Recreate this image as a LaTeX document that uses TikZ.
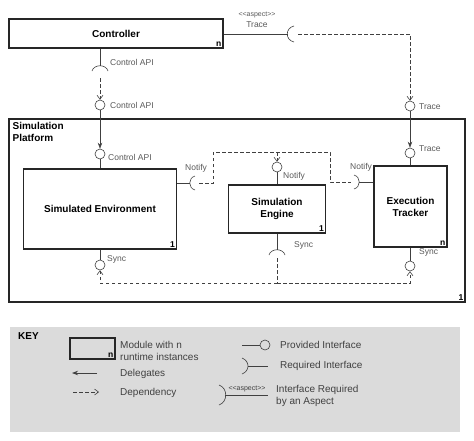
\documentclass[tikz,border=0pt]{standalone}
\usepackage{fontspec}
\setmainfont{Liberation Sans}
\usetikzlibrary{arrows.meta, positioning}

\begin{document}
\begin{tikzpicture}[
    x=1pt, y=-1pt,
    >={Stealth[length=6pt, width=4.5pt]},
    module/.style={
        rectangle,
        draw=black!85,
        line width=1.2pt,
        font=\bfseries\fontsize{10}{12}\selectfont,
        align=center,
        inner sep=0pt
    },
    count/.style={
        font=\bfseries\fontsize{8.5}{9}\selectfont,
        anchor=south east,
        inner sep=2pt
    },
    provided/.style={
        circle,
        draw=black!75,
        line width=0.6pt,
        minimum size=10pt,
        inner sep=0pt
    },
    wire/.style={draw=black!75, line width=0.6pt},
    delegate/.style={wire, ->},
    dep/.style={wire, dash pattern=on 3.5pt off 2.5pt},
    depend/.style={dep, -{Straight Barb[length=4pt, width=6pt]}},
    portlabel/.style={
        font=\fontsize{8.5}{10}\selectfont,
        text=black!65,
        inner sep=1pt
    },
    keytext/.style={
        font=\fontsize{10}{12}\selectfont,
        text=black!75,
        anchor=west,
        align=left,
        inner sep=0pt
    }
]
\useasboundingbox (0,0) rectangle (474,440);

% Controller
\node[module, minimum width=214pt, minimum height=29pt] (ctrl) at (116,33.5) {Controller};
\node[count] (ctrln) at (ctrl.south east) {n};

% Simulation Platform
\node[module, minimum width=456pt, minimum height=183pt] (platform) at (237,210.5) {};
\node[font=\bfseries\fontsize{10}{11.5}\selectfont, align=left, inner sep=0pt,
      below right=4pt and 4pt of platform.north west] (platlabel) {Simulation\\Platform};
\node[count] (platn) at (platform.south east) {1};

% Modules inside the platform
\node[module, minimum width=153pt, minimum height=80pt] (env) at (100,209) {Simulated Environment};
\node[count] (envn) at (env.south east) {1};
\node[module, minimum width=97pt, minimum height=48pt] (engine) at (277,209) {Simulation\\Engine};
\node[count] (enginen) at (engine.south east) {1};
\node[module, minimum width=73pt, minimum height=81pt] (tracker) at (410.5,206.5) {Execution\\Tracker};
\node[count] (trackern) at (tracker.south east) {n};

% Provided interfaces
\node[provided] (ctrlapi) at (100,105) {};
\node[provided] (envapi) at (100,154) {};
\node[provided] (tracetop) at (410,106) {};
\node[provided] (trktrace) at (410,153) {};
\node[provided] (engnotify) at (277,167) {};
\node[provided] (envsync) at (100,265) {};
\node[provided] (trksync) at (410,266) {};

% Control API: required by the controller, delegated to the environment
\coordinate (ctrlapisock) at (100,66);
\coordinate (ctrlapiout) at (100,78);
\draw[wire] (ctrl.south -| ctrlapisock) -- (ctrlapisock);
\draw[wire] (92,71) .. controls (94,64) and (106,64) .. (108,71);
\draw[depend] (ctrlapiout) -- (ctrlapi);
\draw[delegate] (ctrlapi) -- (envapi);
\draw[wire] (envapi) -- (env.north -| envapi);
\node[portlabel, anchor=west] (ctrlapilbl) at (109,62) {Control API};
\node[portlabel, anchor=west] (ctrlapilblb) at (109,105) {Control API};
\node[portlabel, anchor=west] (envapilbl) at (107,157) {Control API};

% Trace: aspect interface of the controller
\coordinate (tracesock) at (287.5,34);
\coordinate (traceout) at (298,34);
\draw[wire] (ctrl.east |- tracesock) -- (tracesock);
\draw[wire] (294,26) .. controls (285,28) and (285,40) .. (294,42);
\draw[depend] (traceout) -| (tracetop);
\draw[delegate] (tracetop) -- (trktrace);
\draw[wire] (trktrace) -- (tracker.north -| trktrace);
\node[portlabel, font=\fontsize{7}{8}\selectfont] (aspectlbl) at (257,15) {<\kern0pt<aspect>\kern0pt>};
\node[portlabel] (tracelbl) at (257,25) {Trace};
\node[portlabel, anchor=west] (tracetoplbl) at (418,107) {Trace};
\node[portlabel, anchor=west] (trktracelbl) at (418,149) {Trace};

% Notify
\coordinate (envnotifysock) at (190,183);
\coordinate (envnotifyout) at (199,183);
\coordinate (trknotifysock) at (359,182);
\coordinate (trknotifyout) at (351,182);
\coordinate (notifyleft) at (213,152);
\coordinate (notifyright) at (330,152);
\draw[wire] (env.east |- envnotifysock) -- (envnotifysock);
\draw[wire] (195,176) .. controls (188,178) and (188,188) .. (195,190);
\draw[wire] (tracker.west |- trknotifysock) -- (trknotifysock);
\draw[wire] (354,175) .. controls (361,177) and (361,187) .. (354,189);
\draw[dep] (envnotifyout) -| (notifyleft) -- (notifyright) |- (trknotifyout);
\draw[depend] (engnotify |- notifyleft) -- (engnotify);
\draw[wire] (engnotify) -- (engine.north);
\node[portlabel] (envnotifylbl) at (196,168) {Notify};
\node[portlabel, anchor=west] (engnotifylbl) at (282,176) {Notify};
\node[portlabel] (trknotifylbl) at (361,167) {Notify};

% Sync
\coordinate (syncsock) at (277,250);
\coordinate (syncout) at (277,258);
\coordinate (syncjoin) at (277,283);
\draw[wire] (engine.south) -- (syncsock);
\draw[wire] (269,255) .. controls (271,248) and (283,248) .. (285,255);
\draw[dep] (syncout) -- (syncjoin);
\draw[depend] (syncjoin) -| (envsync);
\draw[depend] (syncjoin) -| (trksync);
\draw[wire] (envsync) -- (env.south -| envsync);
\draw[wire] (trksync) -- (tracker.south -| trksync);
\node[portlabel, anchor=west] (envsynclbl) at (106,259) {Sync};
\node[portlabel, anchor=west] (engsynclbl) at (293,245) {Sync};
\node[portlabel, anchor=west] (trksynclbl) at (418,252) {Sync};

% Key
\node[fill=black!14, minimum width=450pt, minimum height=105pt, inner sep=0pt] (keybox) at (235,379.5) {};
\node[font=\bfseries\fontsize{10}{12}\selectfont, anchor=north west, inner sep=0pt] (keytitle) at (18,332) {KEY};
\node[module, minimum width=45pt, minimum height=21pt] (keymod) at (92.5,348.5) {};
\node[count] (keymodn) at (keymod.south east) {n};
\node[keytext] (keymodtext) at (120,351) {Module with n\\runtime instances};
\coordinate (keydelfrom) at (97,373);
\coordinate (keydelto) at (72,373);
\draw[delegate, line width=0.8pt] (keydelfrom) -- (keydelto);
\node[keytext] (keydeltext) at (120,374) {Delegates};
\coordinate (keydepfrom) at (73,392);
\coordinate (keydepto) at (99,392);
\draw[depend] (keydepfrom) -- (keydepto);
\node[keytext] (keydeptext) at (120,393) {Dependency};
\coordinate (keyprovfrom) at (242,345);
\node[provided] (keyprov) at (265,345) {};
\draw[wire] (keyprovfrom) -- (keyprov);
\node[keytext] (keyprovtext) at (280,345) {Provided Interface};
\coordinate (keyreqsock) at (248,366);
\coordinate (keyreqto) at (268,366);
\draw[wire] (242,358) .. controls (250,361) and (250,371) .. (242,374);
\draw[wire] (keyreqsock) -- (keyreqto);
\node[keytext] (keyreqtext) at (280,366) {Required Interface};
\coordinate (keyaspsock) at (225,395);
\coordinate (keyaspto) at (268,395);
\draw[wire] (219,385) .. controls (228,388) and (228,402) .. (219,405);
\draw[wire] (keyaspsock) -- (keyaspto);
\node[portlabel, font=\fontsize{7}{8}\selectfont, text=black!75] (keyasplbl) at (247,389) {<\kern0pt<aspect>\kern0pt>};
\node[keytext] (keyasptext) at (276,395.5) {Interface Required\\by an Aspect};

\end{tikzpicture}
\end{document}
